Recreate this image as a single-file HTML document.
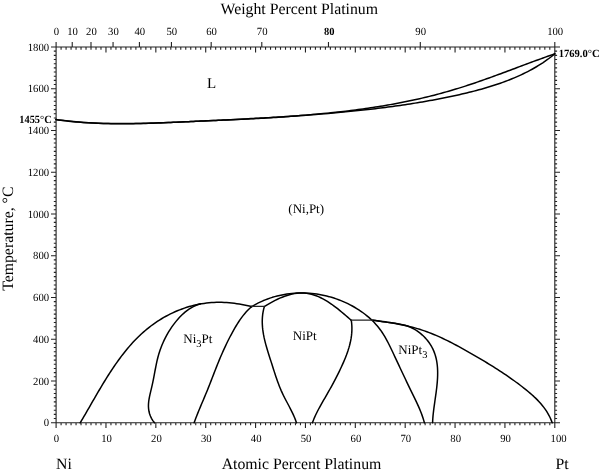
<!DOCTYPE html>
<html><head><meta charset="utf-8"><title>Ni-Pt Phase Diagram</title>
<style>
html,body{margin:0;padding:0;background:#fff;}
body{width:600px;height:472px;overflow:hidden;}
svg{display:block;text-rendering:geometricPrecision;}
</style></head><body>
<svg width="600" height="472" viewBox="0 0 600 472">
<rect width="600" height="472" fill="#fff"/>
<path d="M51,47 H560 M51,422.7 H560 M56.1,42 V428 M554.8,42 V428 M51,422.7 H56.1 M554.8,422.7 H560 M53.8,418.53 H56.1 M554.8,418.53 H557.1 M53.8,414.35 H56.1 M554.8,414.35 H557.1 M53.8,410.18 H56.1 M554.8,410.18 H557.1 M53.8,406 H56.1 M554.8,406 H557.1 M53.8,401.83 H56.1 M554.8,401.83 H557.1 M53.8,397.65 H56.1 M554.8,397.65 H557.1 M53.8,393.48 H56.1 M554.8,393.48 H557.1 M53.8,389.3 H56.1 M554.8,389.3 H557.1 M53.8,385.13 H56.1 M554.8,385.13 H557.1 M51,380.96 H56.1 M554.8,380.96 H560 M53.8,376.78 H56.1 M554.8,376.78 H557.1 M53.8,372.61 H56.1 M554.8,372.61 H557.1 M53.8,368.43 H56.1 M554.8,368.43 H557.1 M53.8,364.26 H56.1 M554.8,364.26 H557.1 M53.8,360.08 H56.1 M554.8,360.08 H557.1 M53.8,355.91 H56.1 M554.8,355.91 H557.1 M53.8,351.73 H56.1 M554.8,351.73 H557.1 M53.8,347.56 H56.1 M554.8,347.56 H557.1 M53.8,343.39 H56.1 M554.8,343.39 H557.1 M51,339.21 H56.1 M554.8,339.21 H560 M53.8,335.04 H56.1 M554.8,335.04 H557.1 M53.8,330.86 H56.1 M554.8,330.86 H557.1 M53.8,326.69 H56.1 M554.8,326.69 H557.1 M53.8,322.51 H56.1 M554.8,322.51 H557.1 M53.8,318.34 H56.1 M554.8,318.34 H557.1 M53.8,314.16 H56.1 M554.8,314.16 H557.1 M53.8,309.99 H56.1 M554.8,309.99 H557.1 M53.8,305.82 H56.1 M554.8,305.82 H557.1 M53.8,301.64 H56.1 M554.8,301.64 H557.1 M51,297.47 H56.1 M554.8,297.47 H560 M53.8,293.29 H56.1 M554.8,293.29 H557.1 M53.8,289.12 H56.1 M554.8,289.12 H557.1 M53.8,284.94 H56.1 M554.8,284.94 H557.1 M53.8,280.77 H56.1 M554.8,280.77 H557.1 M53.8,276.59 H56.1 M554.8,276.59 H557.1 M53.8,272.42 H56.1 M554.8,272.42 H557.1 M53.8,268.25 H56.1 M554.8,268.25 H557.1 M53.8,264.07 H56.1 M554.8,264.07 H557.1 M53.8,259.9 H56.1 M554.8,259.9 H557.1 M51,255.72 H56.1 M554.8,255.72 H560 M53.8,251.55 H56.1 M554.8,251.55 H557.1 M53.8,247.37 H56.1 M554.8,247.37 H557.1 M53.8,243.2 H56.1 M554.8,243.2 H557.1 M53.8,239.02 H56.1 M554.8,239.02 H557.1 M53.8,234.85 H56.1 M554.8,234.85 H557.1 M53.8,230.68 H56.1 M554.8,230.68 H557.1 M53.8,226.5 H56.1 M554.8,226.5 H557.1 M53.8,222.33 H56.1 M554.8,222.33 H557.1 M53.8,218.15 H56.1 M554.8,218.15 H557.1 M51,213.98 H56.1 M554.8,213.98 H560 M53.8,209.8 H56.1 M554.8,209.8 H557.1 M53.8,205.63 H56.1 M554.8,205.63 H557.1 M53.8,201.45 H56.1 M554.8,201.45 H557.1 M53.8,197.28 H56.1 M554.8,197.28 H557.1 M53.8,193.11 H56.1 M554.8,193.11 H557.1 M53.8,188.93 H56.1 M554.8,188.93 H557.1 M53.8,184.76 H56.1 M554.8,184.76 H557.1 M53.8,180.58 H56.1 M554.8,180.58 H557.1 M53.8,176.41 H56.1 M554.8,176.41 H557.1 M51,172.23 H56.1 M554.8,172.23 H560 M53.8,168.06 H56.1 M554.8,168.06 H557.1 M53.8,163.88 H56.1 M554.8,163.88 H557.1 M53.8,159.71 H56.1 M554.8,159.71 H557.1 M53.8,155.54 H56.1 M554.8,155.54 H557.1 M53.8,151.36 H56.1 M554.8,151.36 H557.1 M53.8,147.19 H56.1 M554.8,147.19 H557.1 M53.8,143.01 H56.1 M554.8,143.01 H557.1 M53.8,138.84 H56.1 M554.8,138.84 H557.1 M53.8,134.66 H56.1 M554.8,134.66 H557.1 M51,130.49 H56.1 M554.8,130.49 H560 M53.8,126.31 H56.1 M554.8,126.31 H557.1 M53.8,122.14 H56.1 M554.8,122.14 H557.1 M53.8,117.97 H56.1 M554.8,117.97 H557.1 M53.8,113.79 H56.1 M554.8,113.79 H557.1 M53.8,109.62 H56.1 M554.8,109.62 H557.1 M53.8,105.44 H56.1 M554.8,105.44 H557.1 M53.8,101.27 H56.1 M554.8,101.27 H557.1 M53.8,97.09 H56.1 M554.8,97.09 H557.1 M53.8,92.92 H56.1 M554.8,92.92 H557.1 M51,88.74 H56.1 M554.8,88.74 H560 M53.8,84.57 H56.1 M554.8,84.57 H557.1 M53.8,80.4 H56.1 M554.8,80.4 H557.1 M53.8,76.22 H56.1 M554.8,76.22 H557.1 M53.8,72.05 H56.1 M554.8,72.05 H557.1 M53.8,67.87 H56.1 M554.8,67.87 H557.1 M53.8,63.7 H56.1 M554.8,63.7 H557.1 M53.8,59.52 H56.1 M554.8,59.52 H557.1 M53.8,55.35 H56.1 M554.8,55.35 H557.1 M53.8,51.17 H56.1 M554.8,51.17 H557.1 M51,47 H56.1 M554.8,47 H560 M56.1,422.7 V428 M56.1,47 V52.4 M61.09,422.7 V425.2 M61.09,47 V49.7 M66.07,422.7 V425.2 M66.07,47 V49.7 M71.06,422.7 V425.2 M71.06,47 V49.7 M76.05,422.7 V425.2 M76.05,47 V49.7 M81.03,422.7 V425.2 M81.03,47 V49.7 M86.02,422.7 V425.2 M86.02,47 V49.7 M91.01,422.7 V425.2 M91.01,47 V49.7 M96,422.7 V425.2 M96,47 V49.7 M100.98,422.7 V425.2 M100.98,47 V49.7 M105.97,422.7 V428 M105.97,47 V52.4 M110.96,422.7 V425.2 M110.96,47 V49.7 M115.94,422.7 V425.2 M115.94,47 V49.7 M120.93,422.7 V425.2 M120.93,47 V49.7 M125.92,422.7 V425.2 M125.92,47 V49.7 M130.91,422.7 V425.2 M130.91,47 V49.7 M135.89,422.7 V425.2 M135.89,47 V49.7 M140.88,422.7 V425.2 M140.88,47 V49.7 M145.87,422.7 V425.2 M145.87,47 V49.7 M150.85,422.7 V425.2 M150.85,47 V49.7 M155.84,422.7 V428 M155.84,47 V52.4 M160.83,422.7 V425.2 M160.83,47 V49.7 M165.81,422.7 V425.2 M165.81,47 V49.7 M170.8,422.7 V425.2 M170.8,47 V49.7 M175.79,422.7 V425.2 M175.79,47 V49.7 M180.77,422.7 V425.2 M180.77,47 V49.7 M185.76,422.7 V425.2 M185.76,47 V49.7 M190.75,422.7 V425.2 M190.75,47 V49.7 M195.74,422.7 V425.2 M195.74,47 V49.7 M200.72,422.7 V425.2 M200.72,47 V49.7 M205.71,422.7 V428 M205.71,47 V52.4 M210.7,422.7 V425.2 M210.7,47 V49.7 M215.68,422.7 V425.2 M215.68,47 V49.7 M220.67,422.7 V425.2 M220.67,47 V49.7 M225.66,422.7 V425.2 M225.66,47 V49.7 M230.64,422.7 V425.2 M230.64,47 V49.7 M235.63,422.7 V425.2 M235.63,47 V49.7 M240.62,422.7 V425.2 M240.62,47 V49.7 M245.61,422.7 V425.2 M245.61,47 V49.7 M250.59,422.7 V425.2 M250.59,47 V49.7 M255.58,422.7 V428 M255.58,47 V52.4 M260.57,422.7 V425.2 M260.57,47 V49.7 M265.55,422.7 V425.2 M265.55,47 V49.7 M270.54,422.7 V425.2 M270.54,47 V49.7 M275.53,422.7 V425.2 M275.53,47 V49.7 M280.51,422.7 V425.2 M280.51,47 V49.7 M285.5,422.7 V425.2 M285.5,47 V49.7 M290.49,422.7 V425.2 M290.49,47 V49.7 M295.48,422.7 V425.2 M295.48,47 V49.7 M300.46,422.7 V425.2 M300.46,47 V49.7 M305.45,422.7 V428 M305.45,47 V52.4 M310.44,422.7 V425.2 M310.44,47 V49.7 M315.42,422.7 V425.2 M315.42,47 V49.7 M320.41,422.7 V425.2 M320.41,47 V49.7 M325.4,422.7 V425.2 M325.4,47 V49.7 M330.38,422.7 V425.2 M330.38,47 V49.7 M335.37,422.7 V425.2 M335.37,47 V49.7 M340.36,422.7 V425.2 M340.36,47 V49.7 M345.35,422.7 V425.2 M345.35,47 V49.7 M350.33,422.7 V425.2 M350.33,47 V49.7 M355.32,422.7 V428 M355.32,47 V52.4 M360.31,422.7 V425.2 M360.31,47 V49.7 M365.29,422.7 V425.2 M365.29,47 V49.7 M370.28,422.7 V425.2 M370.28,47 V49.7 M375.27,422.7 V425.2 M375.27,47 V49.7 M380.25,422.7 V425.2 M380.25,47 V49.7 M385.24,422.7 V425.2 M385.24,47 V49.7 M390.23,422.7 V425.2 M390.23,47 V49.7 M395.22,422.7 V425.2 M395.22,47 V49.7 M400.2,422.7 V425.2 M400.2,47 V49.7 M405.19,422.7 V428 M405.19,47 V52.4 M410.18,422.7 V425.2 M410.18,47 V49.7 M415.16,422.7 V425.2 M415.16,47 V49.7 M420.15,422.7 V425.2 M420.15,47 V49.7 M425.14,422.7 V425.2 M425.14,47 V49.7 M430.12,422.7 V425.2 M430.12,47 V49.7 M435.11,422.7 V425.2 M435.11,47 V49.7 M440.1,422.7 V425.2 M440.1,47 V49.7 M445.09,422.7 V425.2 M445.09,47 V49.7 M450.07,422.7 V425.2 M450.07,47 V49.7 M455.06,422.7 V428 M455.06,47 V52.4 M460.05,422.7 V425.2 M460.05,47 V49.7 M465.03,422.7 V425.2 M465.03,47 V49.7 M470.02,422.7 V425.2 M470.02,47 V49.7 M475.01,422.7 V425.2 M475.01,47 V49.7 M479.99,422.7 V425.2 M479.99,47 V49.7 M484.98,422.7 V425.2 M484.98,47 V49.7 M489.97,422.7 V425.2 M489.97,47 V49.7 M494.96,422.7 V425.2 M494.96,47 V49.7 M499.94,422.7 V425.2 M499.94,47 V49.7 M504.93,422.7 V428 M504.93,47 V52.4 M509.92,422.7 V425.2 M509.92,47 V49.7 M514.9,422.7 V425.2 M514.9,47 V49.7 M519.89,422.7 V425.2 M519.89,47 V49.7 M524.88,422.7 V425.2 M524.88,47 V49.7 M529.86,422.7 V425.2 M529.86,47 V49.7 M534.85,422.7 V425.2 M534.85,47 V49.7 M539.84,422.7 V425.2 M539.84,47 V49.7 M544.83,422.7 V425.2 M544.83,47 V49.7 M549.81,422.7 V425.2 M549.81,47 V49.7 M554.8,422.7 V428 M554.8,47 V52.4 M56.1,42 V47 M72.23,42 V47 M90.99,42 V47 M113.06,42 V47 M139.42,42 V47 M171.44,42 V47 M211.18,42 V47 M261.79,42 V47 M328.47,42 V47 M420.3,42 V47 M554.8,42 V47" fill="none" stroke="#222" stroke-width="1.1"/>
<g fill="none" stroke="#000" stroke-width="1.5" stroke-linejoin="round" stroke-linecap="round">
<path d="M56,119.6 L58.5,119.94 L60.99,120.26 L63.49,120.56 L65.98,120.85 L68.48,121.12 L70.97,121.37 L73.47,121.61 L75.97,121.84 L78.46,122.04 L80.96,122.24 L83.45,122.42 L85.95,122.58 L88.44,122.73 L90.94,122.87 L93.44,123 L95.93,123.11 L98.43,123.21 L100.92,123.3 L103.42,123.38 L105.92,123.44 L108.41,123.5 L110.91,123.54 L113.4,123.58 L115.9,123.6 L118.4,123.62 L120.89,123.62 L123.39,123.62 L125.89,123.61 L128.38,123.59 L130.88,123.57 L133.38,123.53 L135.88,123.49 L138.37,123.44 L140.87,123.39 L143.37,123.33 L145.87,123.26 L148.36,123.19 L150.86,123.12 L153.36,123.04 L155.86,122.95 L158.36,122.86 L160.86,122.77 L163.36,122.68 L165.85,122.58 L168.35,122.48 L170.85,122.38 L173.35,122.27 L175.85,122.17 L178.35,122.06 L180.85,121.95 L183.35,121.84 L185.86,121.74 L188.36,121.63 L190.86,121.52 L193.36,121.41 L195.86,121.31 L198.36,121.2 L200.86,121.09 L203.37,120.99 L205.87,120.88 L208.37,120.77 L210.87,120.67 L213.38,120.56 L215.88,120.45 L218.38,120.34 L220.88,120.23 L223.39,120.12 L225.89,120.01 L228.39,119.9 L230.9,119.78 L233.4,119.67 L235.9,119.55 L238.4,119.43 L240.91,119.31 L243.41,119.19 L245.91,119.07 L248.41,118.94 L250.91,118.81 L253.42,118.68 L255.92,118.55 L258.42,118.41 L260.92,118.27 L263.42,118.13 L265.92,117.99 L268.42,117.84 L270.92,117.69 L273.42,117.54 L275.92,117.38 L278.42,117.22 L280.92,117.06 L283.42,116.89 L285.92,116.72 L288.41,116.54 L290.91,116.36 L293.41,116.18 L295.9,115.99 L298.4,115.8 L300.9,115.61 L303.39,115.41 L305.89,115.2 L308.38,114.99 L310.87,114.78 L313.37,114.56 L315.86,114.33 L318.35,114.1 L320.84,113.87 L323.33,113.62 L325.82,113.38 L328.31,113.13 L330.8,112.87 L333.29,112.6 L335.78,112.33 L338.26,112.06 L340.75,111.77 L343.23,111.49 L345.72,111.19 L348.2,110.89 L350.68,110.58 L353.17,110.26 L355.65,109.94 L358.13,109.61 L360.6,109.27 L363.08,108.93 L365.56,108.58 L368.03,108.22 L370.51,107.85 L372.98,107.48 L375.45,107.09 L377.92,106.7 L380.38,106.3 L382.85,105.89 L385.31,105.48 L387.78,105.05 L390.24,104.62 L392.7,104.17 L395.15,103.72 L397.61,103.26 L400.06,102.79 L402.51,102.31 L404.96,101.82 L407.41,101.32 L409.85,100.81 L412.29,100.29 L414.73,99.76 L417.17,99.22 L419.61,98.67 L422.04,98.11 L424.47,97.54 L426.9,96.96 L429.32,96.36 L431.74,95.76 L434.16,95.15 L436.58,94.52 L438.99,93.88 L441.4,93.23 L443.81,92.57 L446.22,91.9 L448.62,91.22 L451.02,90.52 L453.41,89.81 L455.8,89.09 L458.19,88.36 L460.58,87.61 L462.96,86.86 L465.34,86.09 L467.72,85.32 L470.09,84.53 L472.47,83.74 L474.84,82.94 L477.2,82.13 L479.57,81.31 L481.93,80.48 L484.3,79.65 L486.66,78.81 L489.01,77.97 L491.37,77.12 L493.73,76.27 L496.08,75.41 L498.43,74.54 L500.78,73.68 L503.13,72.81 L505.48,71.93 L507.83,71.06 L510.18,70.18 L512.53,69.3 L514.87,68.43 L517.22,67.55 L519.57,66.67 L521.91,65.79 L524.26,64.91 L526.6,64.03 L528.95,63.16 L531.3,62.29 L533.64,61.42 L535.99,60.55 L538.34,59.69 L540.69,58.83 L543.04,57.98 L545.39,57.13 L547.74,56.29 L550.09,55.45 L552.44,54.62 L554.8,53.8"/>
<path d="M56,119.6 L58.49,119.94 L60.98,120.27 L63.48,120.58 L65.97,120.87 L68.46,121.15 L70.96,121.41 L73.45,121.65 L75.94,121.88 L78.44,122.09 L80.93,122.29 L83.43,122.47 L85.92,122.64 L88.42,122.8 L90.91,122.94 L93.41,123.07 L95.9,123.19 L98.4,123.3 L100.89,123.39 L103.39,123.47 L105.89,123.54 L108.38,123.6 L110.88,123.65 L113.38,123.68 L115.87,123.71 L118.37,123.73 L120.87,123.74 L123.36,123.74 L125.86,123.73 L128.36,123.71 L130.86,123.68 L133.36,123.65 L135.85,123.61 L138.35,123.56 L140.85,123.51 L143.35,123.45 L145.85,123.38 L148.35,123.31 L150.85,123.23 L153.35,123.15 L155.84,123.06 L158.34,122.97 L160.84,122.88 L163.34,122.78 L165.84,122.68 L168.34,122.57 L170.84,122.47 L173.34,122.36 L175.84,122.25 L178.34,122.13 L180.84,122.02 L183.34,121.9 L185.84,121.79 L188.34,121.67 L190.84,121.56 L193.34,121.44 L195.84,121.32 L198.34,121.21 L200.84,121.09 L203.35,120.98 L205.85,120.86 L208.35,120.74 L210.85,120.62 L213.35,120.51 L215.85,120.39 L218.35,120.27 L220.85,120.15 L223.35,120.03 L225.85,119.9 L228.35,119.78 L230.85,119.66 L233.35,119.53 L235.85,119.41 L238.35,119.28 L240.85,119.15 L243.35,119.02 L245.85,118.89 L248.35,118.76 L250.85,118.62 L253.35,118.49 L255.85,118.35 L258.35,118.21 L260.84,118.07 L263.34,117.93 L265.84,117.79 L268.34,117.64 L270.84,117.49 L273.33,117.34 L275.83,117.19 L278.33,117.04 L280.83,116.88 L283.32,116.72 L285.82,116.56 L288.32,116.4 L290.81,116.23 L293.31,116.06 L295.8,115.89 L298.3,115.72 L300.79,115.54 L303.29,115.36 L305.78,115.18 L308.27,114.99 L310.77,114.81 L313.26,114.62 L315.75,114.42 L318.24,114.22 L320.74,114.02 L323.23,113.82 L325.72,113.61 L328.21,113.4 L330.7,113.19 L333.19,112.97 L335.68,112.75 L338.17,112.52 L340.66,112.3 L343.15,112.06 L345.63,111.83 L348.12,111.59 L350.61,111.34 L353.09,111.09 L355.58,110.84 L358.06,110.58 L360.55,110.32 L363.03,110.05 L365.52,109.78 L368,109.5 L370.48,109.22 L372.96,108.94 L375.44,108.64 L377.92,108.34 L380.4,108.04 L382.88,107.73 L385.36,107.42 L387.84,107.09 L390.31,106.77 L392.79,106.43 L395.27,106.09 L397.74,105.75 L400.21,105.39 L402.69,105.04 L405.16,104.67 L407.63,104.3 L410.1,103.92 L412.57,103.53 L415.04,103.13 L417.51,102.73 L419.98,102.32 L422.44,101.91 L424.91,101.48 L427.37,101.05 L429.84,100.61 L432.3,100.16 L434.76,99.7 L437.22,99.24 L439.69,98.76 L442.14,98.28 L444.6,97.79 L447.06,97.29 L449.52,96.78 L451.97,96.26 L454.42,95.74 L456.88,95.2 L459.33,94.65 L461.78,94.09 L464.22,93.53 L466.67,92.95 L469.11,92.35 L471.54,91.75 L473.98,91.12 L476.4,90.49 L478.83,89.84 L481.24,89.17 L483.66,88.49 L486.06,87.79 L488.46,87.07 L490.85,86.34 L493.23,85.59 L495.61,84.81 L497.97,84.02 L500.33,83.2 L502.68,82.37 L505.02,81.51 L507.35,80.63 L509.67,79.73 L511.97,78.8 L514.27,77.85 L516.55,76.87 L518.82,75.87 L521.08,74.84 L523.32,73.78 L525.55,72.69 L527.76,71.57 L529.96,70.42 L532.14,69.23 L534.3,68.02 L536.44,66.77 L538.57,65.48 L540.67,64.16 L542.76,62.81 L544.82,61.41 L546.86,59.98 L548.88,58.5 L550.88,56.99 L552.85,55.43 L554.8,53.83"/>
<path d="M80.2,422.8 L81.46,420.69 L82.72,418.57 L83.97,416.43 L85.22,414.29 L86.48,412.13 L87.73,409.97 L88.98,407.79 L90.24,405.61 L91.49,403.43 L92.76,401.24 L94.02,399.04 L95.29,396.84 L96.57,394.65 L97.85,392.45 L99.14,390.25 L100.44,388.06 L101.75,385.87 L103.06,383.68 L104.39,381.5 L105.73,379.32 L107.08,377.16 L108.45,375 L109.82,372.85 L111.22,370.72 L112.63,368.59 L114.05,366.48 L115.49,364.39 L116.95,362.31 L118.43,360.24 L119.93,358.2 L121.45,356.17 L122.99,354.17 L124.55,352.18 L126.14,350.22 L127.75,348.28 L129.38,346.37 L131.04,344.48 L132.72,342.62 L134.43,340.79 L136.17,338.99 L137.94,337.22 L139.74,335.48 L141.56,333.77 L143.42,332.1 L145.31,330.46 L147.23,328.86 L149.19,327.29 L151.18,325.76 L153.2,324.28 L155.25,322.83 L157.34,321.42 L159.45,320.06 L161.6,318.74 L163.77,317.46 L165.97,316.23 L168.19,315.05 L170.44,313.91 L172.72,312.82 L175.01,311.77 L177.33,310.78 L179.67,309.84 L182.03,308.95 L184.41,308.11 L186.81,307.32 L189.22,306.59 L191.65,305.91 L194.09,305.29 L196.55,304.73 L199.02,304.22 L201.5,303.77 L203.99,303.39 L206.49,303.06 L209,302.79 L211.52,302.59 L214.04,302.45 L216.57,302.36 L219.1,302.33 L221.63,302.36 L224.17,302.45 L226.7,302.59 L229.23,302.78 L231.76,303.02 L234.28,303.31 L236.8,303.64 L239.31,304.03 L241.81,304.46 L244.3,304.93 L246.78,305.45 L249.25,306 L251.7,306.6"/>
<path d="M154.5,422.8 L152.85,420.62 L151.48,418.36 L150.39,416.05 L149.56,413.7 L148.96,411.3 L148.6,408.87 L148.44,406.43 L148.48,403.97 L148.7,401.5 L149.05,399.03 L149.52,396.55 L150.06,394.07 L150.65,391.59 L151.25,389.1 L151.84,386.62 L152.4,384.13 L152.93,381.65 L153.44,379.16 L153.92,376.68 L154.39,374.2 L154.85,371.73 L155.31,369.26 L155.79,366.79 L156.28,364.33 L156.8,361.88 L157.36,359.44 L157.98,357.01 L158.65,354.58 L159.39,352.18 L160.19,349.78 L161.06,347.41 L162,345.05 L163,342.71 L164.06,340.4 L165.18,338.12 L166.36,335.87 L167.6,333.64 L168.9,331.46 L170.26,329.31 L171.67,327.19 L173.14,325.12 L174.66,323.1 L176.24,321.12 L177.87,319.19 L179.56,317.33 L181.31,315.53 L183.13,313.81 L185.02,312.17 L186.98,310.62 L189.02,309.17 L191.14,307.83 L193.34,306.61 L195.64,305.51 L198.02,304.53 L200.5,303.7"/>
<path d="M251.7,306.6 L249.81,308.27 L248.01,310.01 L246.29,311.83 L244.65,313.71 L243.08,315.64 L241.57,317.64 L240.11,319.67 L238.71,321.75 L237.36,323.87 L236.04,326.01 L234.76,328.18 L233.51,330.37 L232.29,332.57 L231.09,334.79 L229.91,337.02 L228.76,339.27 L227.63,341.52 L226.53,343.79 L225.44,346.07 L224.38,348.35 L223.33,350.65 L222.31,352.95 L221.3,355.26 L220.31,357.58 L219.34,359.9 L218.38,362.22 L217.44,364.55 L216.51,366.87 L215.59,369.2 L214.68,371.54 L213.77,373.87 L212.87,376.2 L211.97,378.53 L211.06,380.87 L210.15,383.2 L209.24,385.53 L208.31,387.85 L207.38,390.18 L206.43,392.5 L205.46,394.81 L204.49,397.13 L203.52,399.45 L202.54,401.76 L201.56,404.08 L200.58,406.4 L199.61,408.72 L198.65,411.05 L197.7,413.39 L196.77,415.73 L195.86,418.08 L194.97,420.43 L194.1,422.8"/>
<path d="M251.7,306.6 L253.89,305.31 L256.11,304.09 L258.36,302.93 L260.64,301.84 L262.93,300.81 L265.25,299.85 L267.6,298.95 L269.96,298.11 L272.34,297.34 L274.74,296.64 L277.15,295.99 L279.58,295.41 L282.02,294.9 L284.48,294.44 L286.94,294.05 L289.42,293.72 L291.9,293.45 L294.38,293.25 L296.88,293.1 L299.37,293.02 L301.87,292.99 L304.37,293.03 L306.86,293.13 L309.36,293.28 L311.85,293.5 L314.34,293.77 L316.82,294.11 L319.29,294.5 L321.76,294.95 L324.21,295.46 L326.65,296.03 L329.08,296.65 L331.5,297.33 L333.9,298.07 L336.28,298.87 L338.64,299.72 L340.98,300.63 L343.3,301.59 L345.6,302.61 L347.88,303.69 L350.12,304.82 L352.35,306 L354.54,307.24 L356.7,308.53 L358.83,309.88 L360.92,311.28 L362.97,312.74 L364.98,314.24 L366.94,315.81 L368.85,317.42 L370.71,319.09 L372.52,320.81 L374.27,322.58 L375.95,324.41 L377.58,326.28 L379.13,328.21 L380.62,330.19 L382.04,332.23 L383.39,334.3 L384.68,336.42 L385.92,338.58 L387.12,340.77 L388.27,342.98 L389.4,345.22 L390.5,347.48 L391.58,349.74 L392.66,352.02 L393.72,354.29 L394.79,356.57 L395.86,358.85 L396.92,361.12 L397.99,363.4 L399.05,365.68 L400.12,367.95 L401.19,370.22 L402.26,372.49 L403.33,374.76 L404.4,377.03 L405.48,379.3 L406.56,381.56 L407.64,383.82 L408.73,386.08 L409.82,388.34 L410.92,390.59 L412.02,392.83 L413.12,395.08 L414.22,397.33 L415.31,399.57 L416.39,401.83 L417.44,404.09 L418.47,406.36 L419.46,408.65 L420.41,410.95 L421.32,413.27 L422.18,415.62 L422.99,417.98 L423.73,420.38 L424.4,422.8"/>
<path d="M264.2,306.7 L266.27,305.39 L268.41,304.09 L270.6,302.82 L272.84,301.58 L275.13,300.39 L277.46,299.26 L279.82,298.18 L282.22,297.19 L284.64,296.27 L287.08,295.45 L289.54,294.72 L292,294.11 L294.47,293.62 L296.94,293.26 L299.41,293.04 L301.86,292.96 L304.29,293.04 L306.71,293.29 L309.1,293.69 L311.47,294.24 L313.82,294.92 L316.14,295.74 L318.44,296.67 L320.71,297.71 L322.95,298.86 L325.17,300.09 L327.37,301.41 L329.53,302.81 L331.66,304.26 L333.77,305.78 L335.85,307.34 L337.89,308.94 L339.91,310.56 L341.89,312.21 L343.84,313.86 L345.76,315.52 L347.64,317.17 L349.49,318.8 L351.3,320.4"/>
<path d="M264.2,307.1 L263.55,309.6 L263.05,312.11 L262.67,314.61 L262.42,317.12 L262.28,319.62 L262.26,322.13 L262.34,324.63 L262.51,327.13 L262.77,329.63 L263.12,332.13 L263.54,334.63 L264.02,337.13 L264.57,339.62 L265.18,342.11 L265.83,344.59 L266.52,347.07 L267.25,349.55 L268,352.03 L268.77,354.5 L269.56,356.96 L270.35,359.42 L271.15,361.88 L271.93,364.32 L272.71,366.77 L273.48,369.2 L274.26,371.63 L275.05,374.04 L275.84,376.45 L276.66,378.85 L277.5,381.23 L278.37,383.6 L279.27,385.95 L280.21,388.29 L281.2,390.62 L282.24,392.92 L283.33,395.21 L284.46,397.48 L285.63,399.74 L286.83,402 L288.03,404.25 L289.22,406.51 L290.41,408.78 L291.56,411.06 L292.68,413.35 L293.74,415.67 L294.74,418.02 L295.67,420.39 L296.5,422.8"/>
<path d="M351.3,320.4 L351.63,322.99 L351.83,325.56 L351.91,328.11 L351.87,330.64 L351.72,333.16 L351.47,335.65 L351.12,338.13 L350.68,340.6 L350.15,343.05 L349.55,345.48 L348.86,347.9 L348.11,350.3 L347.3,352.69 L346.44,355.06 L345.52,357.42 L344.56,359.77 L343.56,362.1 L342.53,364.42 L341.47,366.73 L340.4,369.03 L339.3,371.31 L338.18,373.59 L337.04,375.85 L335.89,378.11 L334.72,380.35 L333.53,382.59 L332.33,384.81 L331.11,387.03 L329.88,389.24 L328.64,391.44 L327.39,393.64 L326.13,395.83 L324.86,398.01 L323.59,400.2 L322.33,402.38 L321.08,404.58 L319.86,406.78 L318.66,409 L317.49,411.23 L316.37,413.49 L315.29,415.77 L314.26,418.08 L313.3,420.42 L312.4,422.8"/>
<path d="M372.8,320.2 L375.27,320.5 L377.74,320.82 L380.22,321.15 L382.71,321.49 L385.2,321.85 L387.69,322.22 L390.19,322.61 L392.68,323.03 L395.17,323.46 L397.66,323.92 L400.15,324.41 L402.63,324.92 L405.1,325.45 L407.56,326.02 L410.02,326.62 L412.46,327.24 L414.89,327.9 L417.31,328.6 L419.71,329.33 L422.1,330.1 L424.47,330.9 L426.82,331.74 L429.16,332.62 L431.48,333.52 L433.79,334.46 L436.09,335.43 L438.38,336.42 L440.65,337.44 L442.91,338.49 L445.17,339.56 L447.41,340.66 L449.64,341.77 L451.87,342.9 L454.09,344.06 L456.3,345.23 L458.5,346.41 L460.7,347.62 L462.9,348.83 L465.09,350.05 L467.27,351.29 L469.45,352.53 L471.63,353.79 L473.81,355.05 L475.98,356.31 L478.16,357.58 L480.33,358.86 L482.49,360.15 L484.65,361.44 L486.81,362.75 L488.96,364.06 L491.1,365.38 L493.24,366.72 L495.37,368.06 L497.5,369.42 L499.61,370.79 L501.72,372.17 L503.82,373.56 L505.91,374.97 L507.99,376.39 L510.05,377.83 L512.11,379.28 L514.16,380.74 L516.19,382.23 L518.21,383.72 L520.22,385.24 L522.21,386.77 L524.19,388.32 L526.15,389.89 L528.1,391.48 L530.02,393.1 L531.9,394.75 L533.76,396.43 L535.57,398.14 L537.34,399.89 L539.05,401.69 L540.71,403.53 L542.3,405.43 L543.83,407.37 L545.29,409.38 L546.67,411.44 L547.96,413.57 L549.17,415.77 L550.28,418.04 L551.29,420.38 L552.2,422.8"/>
<path d="M372.8,320.2 L375.24,320.61 L377.69,320.99 L380.15,321.36 L382.62,321.71 L385.1,322.04 L387.59,322.37 L390.09,322.69 L392.6,323 L395.11,323.34 L397.61,323.71 L400.09,324.15 L402.55,324.67 L404.97,325.29 L407.36,326.04 L409.69,326.94 L411.98,327.98 L414.2,329.15 L416.35,330.45 L418.43,331.88 L420.42,333.41 L422.34,335.06 L424.16,336.8 L425.88,338.63 L427.5,340.55 L429.01,342.54 L430.4,344.6 L431.67,346.73 L432.81,348.9 L433.81,351.13 L434.68,353.39 L435.43,355.69 L436.05,358.03 L436.56,360.41 L436.97,362.81 L437.27,365.24 L437.49,367.7 L437.61,370.18 L437.66,372.68 L437.64,375.2 L437.55,377.73 L437.4,380.28 L437.2,382.83 L436.96,385.4 L436.68,387.96 L436.36,390.53 L436.03,393.09 L435.67,395.65 L435.31,398.21 L434.94,400.75 L434.58,403.29 L434.22,405.81 L433.88,408.31 L433.57,410.79 L433.29,413.25 L433.04,415.68 L432.84,418.08 L432.69,420.46 L432.6,422.8"/>
<path d="M251.7,306.3 H264.2 M351.3,320.1 H372.8" stroke="#222" stroke-width="1.3"/>
</g>
<g font-family="'Liberation Serif','Times New Roman',serif" fill="#000">
<text x="56.4" y="441.5" font-size="11" text-anchor="middle" textLength="5.35" lengthAdjust="spacingAndGlyphs">0</text>
<text x="106.57" y="441.5" font-size="11" text-anchor="middle" textLength="10.7" lengthAdjust="spacingAndGlyphs">10</text>
<text x="156.44" y="441.5" font-size="11" text-anchor="middle" textLength="10.7" lengthAdjust="spacingAndGlyphs">20</text>
<text x="206.31" y="441.5" font-size="11" text-anchor="middle" textLength="10.7" lengthAdjust="spacingAndGlyphs">30</text>
<text x="256.18" y="441.5" font-size="11" text-anchor="middle" textLength="10.7" lengthAdjust="spacingAndGlyphs">40</text>
<text x="306.05" y="441.5" font-size="11" text-anchor="middle" textLength="10.7" lengthAdjust="spacingAndGlyphs">50</text>
<text x="355.92" y="441.5" font-size="11" text-anchor="middle" textLength="10.7" lengthAdjust="spacingAndGlyphs">60</text>
<text x="405.79" y="441.5" font-size="11" text-anchor="middle" textLength="10.7" lengthAdjust="spacingAndGlyphs">70</text>
<text x="455.66" y="441.5" font-size="11" text-anchor="middle" textLength="10.7" lengthAdjust="spacingAndGlyphs">80</text>
<text x="505.53" y="441.5" font-size="11" text-anchor="middle" textLength="10.7" lengthAdjust="spacingAndGlyphs">90</text>
<text x="558.6" y="441.5" font-size="11" text-anchor="middle" textLength="16.05" lengthAdjust="spacingAndGlyphs">100</text>
<text x="56.5" y="35.3" font-size="11" text-anchor="middle" textLength="5.35" lengthAdjust="spacingAndGlyphs">0</text>
<text x="72.63" y="35.3" font-size="11" text-anchor="middle" textLength="10.7" lengthAdjust="spacingAndGlyphs">10</text>
<text x="91.39" y="35.3" font-size="11" text-anchor="middle" textLength="10.7" lengthAdjust="spacingAndGlyphs">20</text>
<text x="113.46" y="35.3" font-size="11" text-anchor="middle" textLength="10.7" lengthAdjust="spacingAndGlyphs">30</text>
<text x="139.82" y="35.3" font-size="11" text-anchor="middle" textLength="10.7" lengthAdjust="spacingAndGlyphs">40</text>
<text x="171.84" y="35.3" font-size="11" text-anchor="middle" textLength="10.7" lengthAdjust="spacingAndGlyphs">50</text>
<text x="211.58" y="35.3" font-size="11" text-anchor="middle" textLength="10.7" lengthAdjust="spacingAndGlyphs">60</text>
<text x="262.19" y="35.3" font-size="11" text-anchor="middle" textLength="10.7" lengthAdjust="spacingAndGlyphs">70</text>
<text x="329.17" y="35.3" font-size="11" text-anchor="middle" font-weight="bold" textLength="10.5" lengthAdjust="spacingAndGlyphs">80</text>
<text x="420.7" y="35.3" font-size="11" text-anchor="middle" textLength="10.7" lengthAdjust="spacingAndGlyphs">90</text>
<text x="555.2" y="35.3" font-size="11" text-anchor="middle" textLength="16.05" lengthAdjust="spacingAndGlyphs">100</text>
<text x="49.1" y="426.4" font-size="11" text-anchor="end" textLength="5.35" lengthAdjust="spacingAndGlyphs">0</text>
<text x="49.1" y="384.66" font-size="11" text-anchor="end" textLength="16.05" lengthAdjust="spacingAndGlyphs">200</text>
<text x="49.1" y="342.91" font-size="11" text-anchor="end" textLength="16.05" lengthAdjust="spacingAndGlyphs">400</text>
<text x="49.1" y="301.17" font-size="11" text-anchor="end" textLength="16.05" lengthAdjust="spacingAndGlyphs">600</text>
<text x="49.1" y="259.42" font-size="11" text-anchor="end" textLength="16.05" lengthAdjust="spacingAndGlyphs">800</text>
<text x="49.1" y="217.68" font-size="11" text-anchor="end" textLength="21.4" lengthAdjust="spacingAndGlyphs">1000</text>
<text x="49.1" y="175.93" font-size="11" text-anchor="end" textLength="21.4" lengthAdjust="spacingAndGlyphs">1200</text>
<text x="49.1" y="134.19" font-size="11" text-anchor="end" textLength="21.4" lengthAdjust="spacingAndGlyphs">1400</text>
<text x="49.1" y="92.44" font-size="11" text-anchor="end" textLength="21.4" lengthAdjust="spacingAndGlyphs">1600</text>
<text x="49.1" y="50.7" font-size="11" text-anchor="end" textLength="21.4" lengthAdjust="spacingAndGlyphs">1800</text>
<text x="51.6" y="122.61" font-size="11" text-anchor="end" font-weight="bold" textLength="32.3" lengthAdjust="spacingAndGlyphs">1455&#176;C</text>
<text x="558.7" y="56.67" font-size="11" text-anchor="start" font-weight="bold" textLength="41.0" lengthAdjust="spacingAndGlyphs">1769.0&#176;C</text>
<text x="299.3" y="14.2" font-size="15.8" text-anchor="middle">Weight Percent Platinum</text>
<text x="301.5" y="468.5" font-size="15.8" text-anchor="middle">Atomic Percent Platinum</text>
<text x="56" y="468.6" font-size="15.8" text-anchor="start">Ni</text>
<text x="555.5" y="468.5" font-size="15.8" text-anchor="start">Pt</text>
<text x="0" y="0" font-size="15.8" text-anchor="middle" transform="translate(13.3,238.7) rotate(-90)">Temperature, &#176;C</text>
<text x="207" y="88" font-size="15" text-anchor="start">L</text>
<text x="288.3" y="212.8" font-size="13" text-anchor="start">(Ni,Pt)</text>
<text x="183.3" y="342.8" font-size="13">Ni<tspan font-size="10.5" dy="3.9">3</tspan><tspan dy="-3.9">Pt</tspan></text>
<text x="292.8" y="339.7" font-size="13">NiPt</text>
<text x="398.3" y="353.5" font-size="13">NiPt<tspan font-size="10.5" dy="4.5">3</tspan></text>
</g>
</svg>
</body></html>
